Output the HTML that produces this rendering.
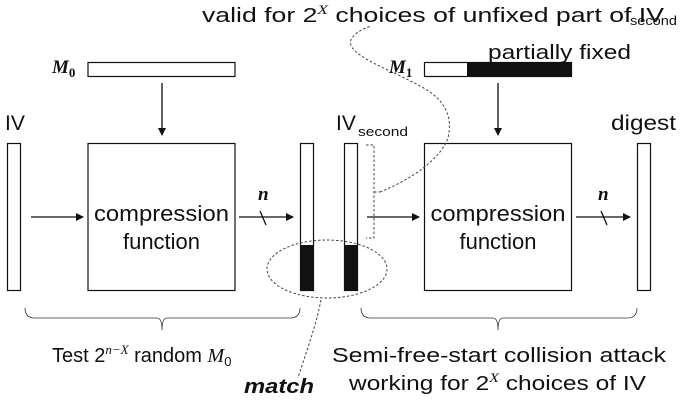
<!DOCTYPE html>
<html><head><meta charset="utf-8"><style>
html,body{margin:0;padding:0;background:#fff;}
svg{display:block;}
text{font-family:"Liberation Sans","Noto Sans CJK JP",sans-serif;fill:#111;}
.m{font-family:"Liberation Serif",serif;font-style:italic;}
</style></head><body>
<svg width="685" height="403" viewBox="0 0 685 403" xmlns="http://www.w3.org/2000/svg">
<defs><marker id="a" markerWidth="8" markerHeight="8" refX="7" refY="4" orient="auto" markerUnits="userSpaceOnUse"><path d="M0,0 L8,4 L0,8 z" fill="#111"/></marker></defs>
<g stroke="#111" stroke-width="1.2" fill="#fff">
<rect x="7.5" y="143.5" width="13" height="147"/>
<rect x="88" y="143.5" width="147" height="147"/>
<rect x="300.5" y="143.5" width="13" height="147"/>
<rect x="344.5" y="143.5" width="13" height="147"/>
<rect x="424.5" y="143.5" width="147" height="147"/>
<rect x="637.5" y="143.5" width="13" height="147"/>
<rect x="88" y="62.5" width="147" height="14"/>
<rect x="424.5" y="62.5" width="147" height="14"/>
</g>
<rect x="467" y="62.5" width="104.5" height="14" fill="#111"/>
<rect x="301" y="245" width="12" height="45" fill="#111"/>
<rect x="345" y="245" width="12" height="45" fill="#111"/>
<g stroke="#111" stroke-width="1.3" fill="none">
<line x1="162" y1="83" x2="162" y2="135" marker-end="url(#a)"/>
<line x1="498" y1="83" x2="498" y2="135" marker-end="url(#a)"/>
<line x1="31" y1="217" x2="83" y2="217" marker-end="url(#a)"/>
<line x1="239" y1="217" x2="293" y2="217" marker-end="url(#a)"/>
<line x1="367" y1="217" x2="419" y2="217" marker-end="url(#a)"/>
<line x1="576" y1="217" x2="630" y2="217" marker-end="url(#a)"/>
<line x1="260" y1="211" x2="266" y2="225"/>
<line x1="601" y1="211" x2="607" y2="225"/>
</g>
<g stroke="#333" stroke-width="0.8" fill="none">
<path d="M25,308 Q25,318 35,318 L157,318 Q162,318 162,330 Q162,318 167,318 L290,318 Q300,318 300,308"/>
<path d="M361,308 Q361,318 371,318 L493,318 Q498,318 498,330 Q498,318 503,318 L627,318 Q637,318 637,308"/>
</g>
<g stroke="#444" stroke-width="1" fill="none" stroke-dasharray="2.5,2">
<ellipse cx="327" cy="269" rx="60" ry="29"/>
<path d="M366,145 L374,145 L374,238 L366,238 M374,192 L380,192"/>
<path d="M380,192 C410,180 440,160 448,138 C452,120 448,105 430,92 C400,72 340,55 352,38 C358,30 366,28 371,26"/>
<path d="M321,300 C315,330 305,355 298,378"/>
</g>
<text x="202" y="22" font-size="20" textLength="462" lengthAdjust="spacingAndGlyphs">valid for 2<tspan class="m" font-size="13" dy="-8">X</tspan><tspan dy="8"> choices of unfixed part of IV</tspan></text>
<text x="630" y="25" font-size="13" textLength="47" lengthAdjust="spacingAndGlyphs">second</text>
<text x="488" y="59" font-size="20" textLength="143" lengthAdjust="spacingAndGlyphs">partially fixed</text>
<text x="52" y="73" font-size="19" class="m" font-weight="bold">M<tspan font-size="13" dy="4" font-style="normal">0</tspan></text>
<text x="389" y="73" font-size="19" class="m" font-weight="bold">M<tspan font-size="13" dy="4" font-style="normal">1</tspan></text>
<text x="5" y="130" font-size="21">IV</text>
<text x="336" y="130" font-size="21">IV</text>
<text x="358" y="136" font-size="13" textLength="50" lengthAdjust="spacingAndGlyphs">second</text>
<text x="611" y="130" font-size="21" textLength="65" lengthAdjust="spacingAndGlyphs">digest</text>
<text x="161.5" y="221" font-size="22" text-anchor="middle" textLength="135" lengthAdjust="spacingAndGlyphs">compression</text>
<text x="161.5" y="249" font-size="22" text-anchor="middle">function</text>
<text x="498" y="221" font-size="22" text-anchor="middle" textLength="135" lengthAdjust="spacingAndGlyphs">compression</text>
<text x="498" y="249" font-size="22" text-anchor="middle">function</text>
<text x="258" y="200" font-size="19" class="m" font-weight="bold">n</text>
<text x="598" y="200" font-size="19" class="m" font-weight="bold">n</text>
<text x="52" y="362" font-size="20">Test 2<tspan class="m" font-size="13" dy="-8">n−X</tspan><tspan dy="8"> random </tspan><tspan class="m">M</tspan><tspan font-size="13" dy="4">0</tspan></text>
<text x="332" y="362" font-size="20" textLength="334" lengthAdjust="spacingAndGlyphs">Semi-free-start collision attack</text>
<text x="349" y="390" font-size="20" textLength="297" lengthAdjust="spacingAndGlyphs">working for 2<tspan class="m" font-size="13" dy="-8">X</tspan><tspan dy="8"> choices of IV</tspan></text>
<text x="244" y="393" font-size="20" font-weight="bold" font-style="italic" textLength="70" lengthAdjust="spacingAndGlyphs">match</text>
</svg>
</body></html>
